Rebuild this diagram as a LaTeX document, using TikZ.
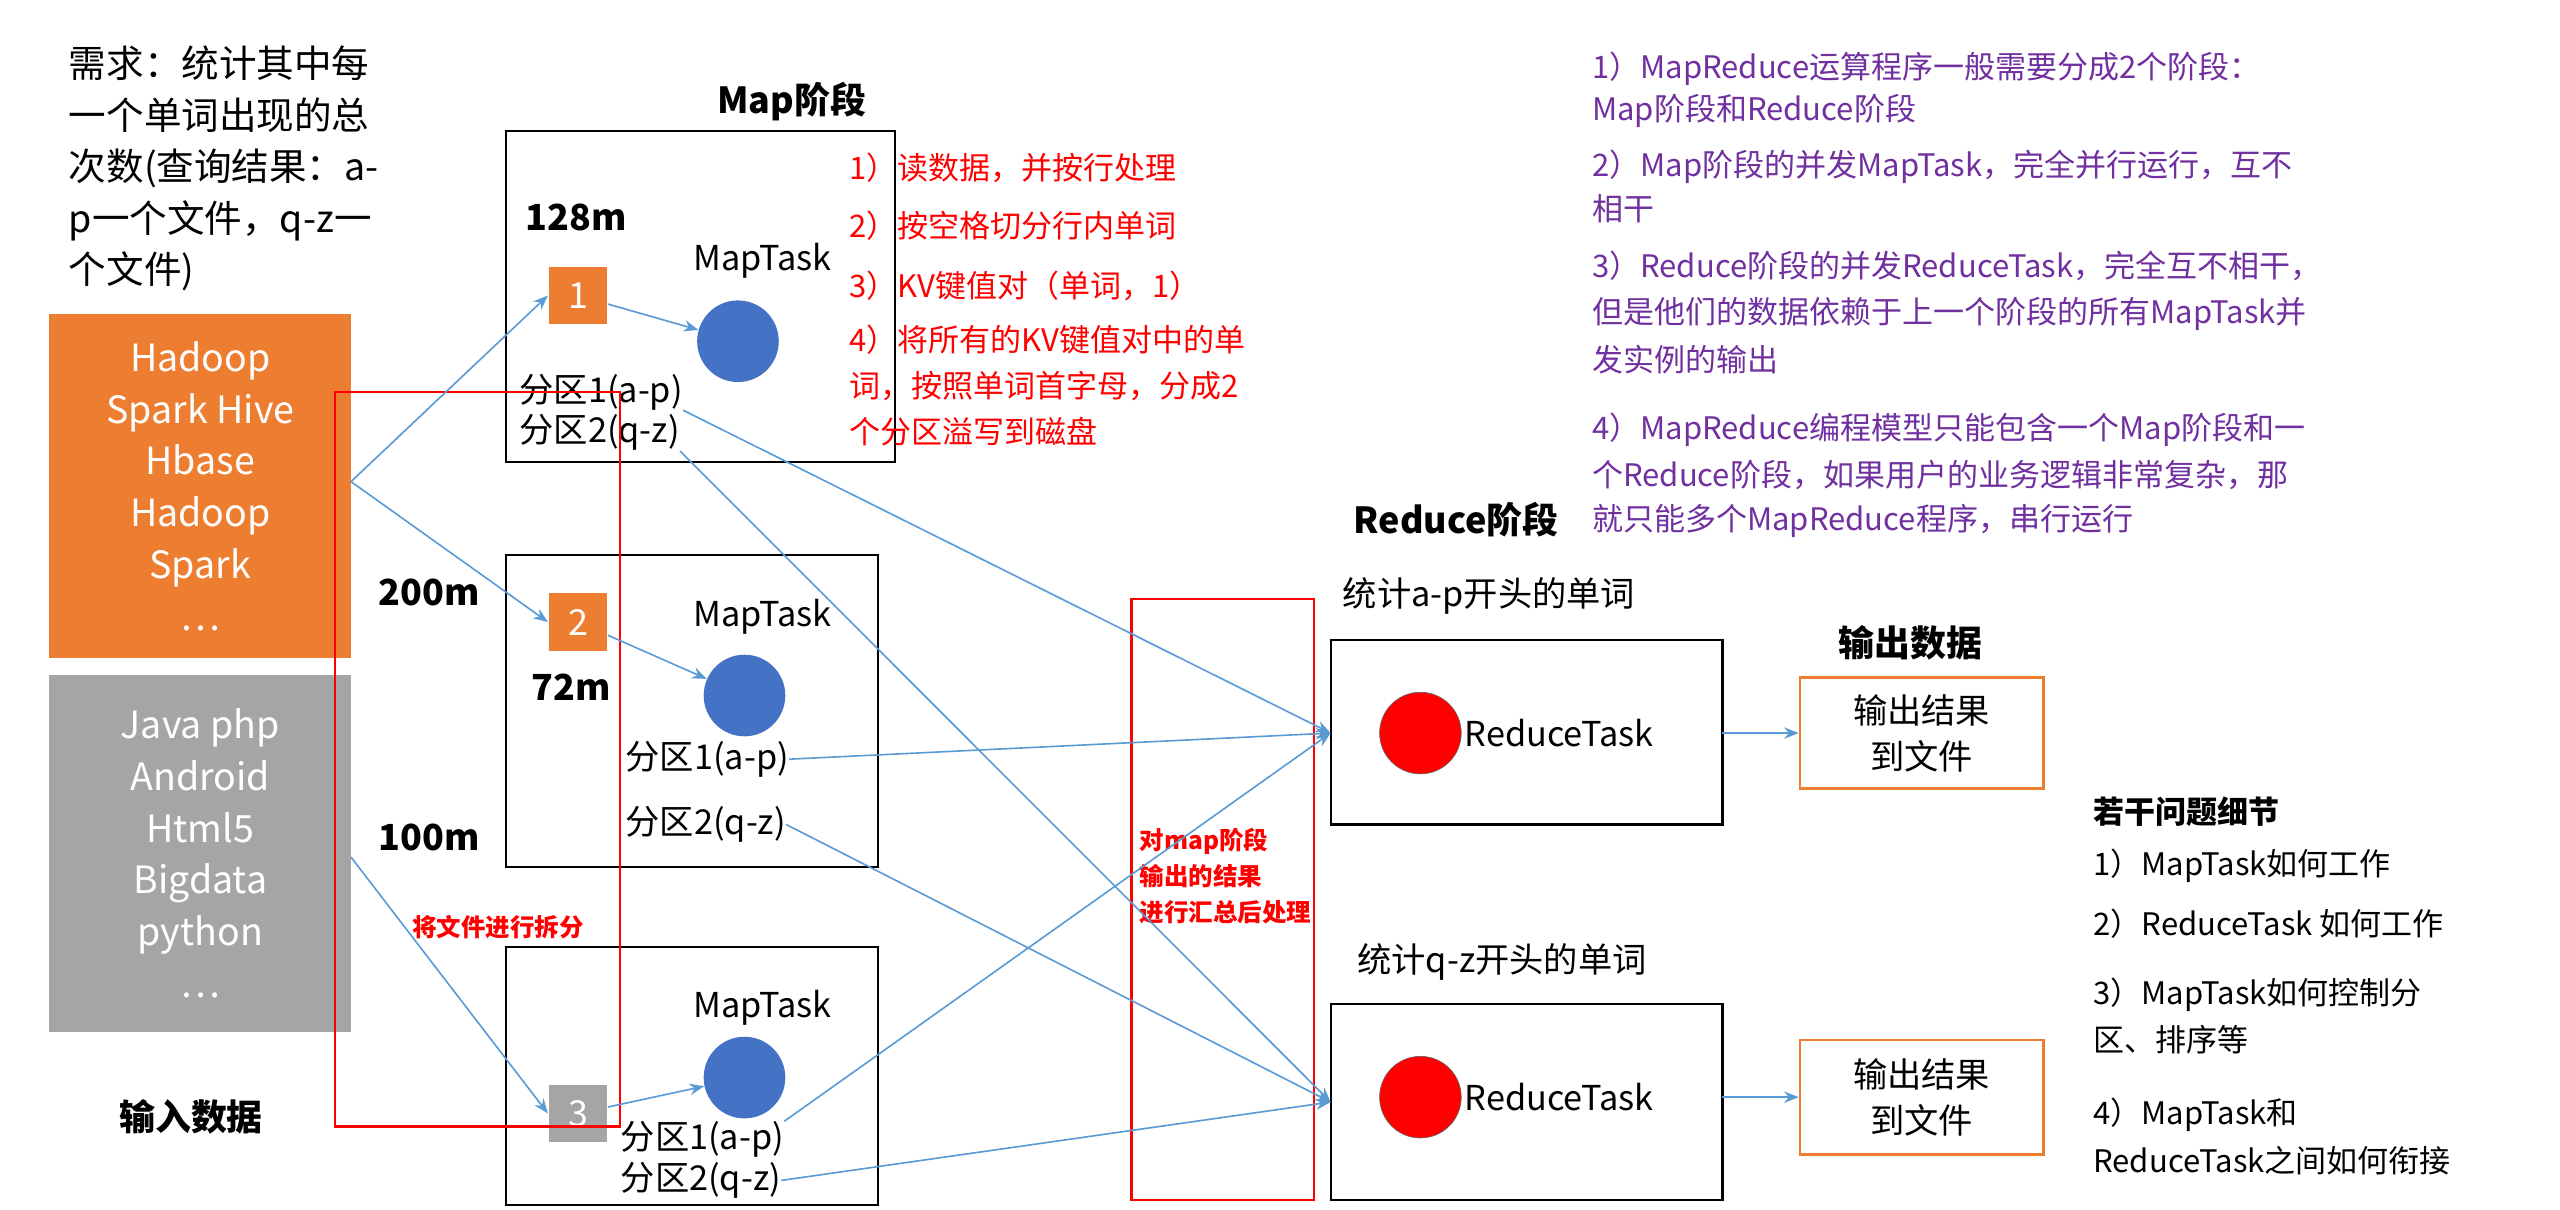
\documentclass[tikz,border=0pt]{standalone}
\usepackage{fontspec}
\setmainfont{Noto Sans CJK SC}
\usetikzlibrary{arrows.meta}
\definecolor{ob}{HTML}{ED7D31}
\definecolor{gb}{HTML}{A5A5A5}
\definecolor{bl}{HTML}{5B9BD5}
\definecolor{cb}{HTML}{4472C4}
\definecolor{pu}{HTML}{7030A0}
\begin{document}
\begin{tikzpicture}[x=1pt,y=-1pt,
 t/.style={font=\fontsize{21}{26}\selectfont,inner sep=0pt},
 tb/.style={font=\fontsize{22}{26}\selectfont\bfseries,inner sep=0pt},
 rt/.style={font=\fontsize{19}{28}\selectfont,text=red,inner sep=0pt,anchor=west},
 pt/.style={font=\fontsize{19}{27}\selectfont,text=pu,inner sep=0pt,anchor=west},
 qt/.style={font=\fontsize{19}{27}\selectfont,inner sep=0pt,anchor=west},
 box/.style={draw=black,line width=1.3pt},
 sq/.style={minimum size=36pt,inner sep=0pt,text=white,font=\fontsize{22}{22}\selectfont,draw=white,line width=0.8pt},
 circ/.style={circle,minimum size=50pt,inner sep=0pt},
 ar/.style={draw=bl,line width=1pt,-{Stealth[length=9pt,width=7pt]}},
 red/.style={draw=red,line width=1.3pt}]
\useasboundingbox (0,0) rectangle (1568,741);
\node[t,align=left,anchor=north west,font=\fontsize{23}{31.5}\selectfont] (req) at (42,28) {需求：统计其中每\\一个单词出现的总\\次数(查询结果：a-\\p一个文件，q-z一\\个文件)};
\node[fill=ob,minimum width=185pt,minimum height=211pt,anchor=north west,inner sep=0pt,text=white,align=center,font=\fontsize{23}{31.7}\selectfont] (in1) at (30,192) {Hadoop\\Spark Hive\\Hbase\\Hadoop\\Spark\\…};
\node[fill=gb,minimum width=185pt,minimum height=219pt,anchor=north west,inner sep=0pt,text=white,align=center,font=\fontsize{23}{31.7}\selectfont] (in2) at (30,413) {Java php\\Android\\Html5\\Bigdata\\python\\…};
\node[tb] (inl) at (117,684) {输入数据};
\node[tb] (mapl) at (485,62) {Map阶段};
% map boxes
\draw[box] (310,80) rectangle (548,283);
\draw[box] (310,340) rectangle (538,531);
\draw[box] (310,580) rectangle (538,738);
\node[tb] (m128) at (353,133) {128m};
\node[tb] (m200) at (263,363) {200m};
\node[tb] (m72) at (350,421) {72m};
\node[tb] (m100) at (263,513) {100m};
\node[sq,fill=ob] (s1) at (354,181) {1};
\node[sq,fill=ob] (s2) at (354,381) {2};
\node[sq,fill=gb] (s3) at (354,682) {3};
\node[t] (mt1) at (467,160) {MapTask};
\node[t] (mt2) at (467,378) {MapTask};
\node[t] (mt3) at (467,617) {MapTask};
\node[circ,fill=cb] (c1) at (452,209) {};
\node[circ,fill=cb] (c2) at (456,426) {};
\node[circ,fill=cb] (c3) at (456,660) {};
\node[t,anchor=west] (p11) at (318,240) {分区1(a-p)};
\node[t,anchor=west] (p12) at (318,265) {分区2(q-z)};
\node[t,anchor=west] (p21) at (383,465) {分区1(a-p)};
\node[t,anchor=west] (p22) at (383,505) {分区2(q-z)};
\node[t,anchor=west] (p31) at (380,698) {分区1(a-p)};
\node[t,anchor=west] (p32) at (380,723) {分区2(q-z)};
\node[rt] (r1) at (520,103) {1）读数据，并按行处理};
\node[rt] (r2) at (520,138) {2）按空格切分行内单词};
\node[rt] (r3) at (520,175) {3）KV键值对（单词，1）};
\node[rt,align=left,anchor=north west] (r4) at (520,199) {4）将所有的KV键值对中的单\\词，按照单词首字母，分成2\\个分区溢写到磁盘};
\node[font=\fontsize{15}{15}\selectfont\bfseries\itshape,text=red,inner sep=0pt] (split) at (305,568) {将文件进行拆分};
% red frames
\draw[red] (380,240) -- (205,240) -- (205,690) -- (380,690) -- cycle;
\draw[red] (693,367) rectangle (805,735);
\node[font=\fontsize{15}{22}\selectfont\bfseries\itshape,text=red,inner sep=0pt,align=left,anchor=north west] (sum) at (698,507) {对map阶段\\输出的结果\\进行汇总后处理};
% reduce
\node[tb] (redl) at (892,318) {Reduce阶段};
\node[t] (ap) at (912,365) {统计a-p开头的单词};
\node[t] (qz) at (920,589) {统计q-z开头的单词};
\draw[box] (815,392) rectangle (1055,505);
\draw[box] (815,615) rectangle (1055,735);
\coordinate (rb1) at (815,449);
\coordinate (rb2) at (815,675);
\node[circ,fill=red,draw=black!60] (rc1) at (870,449) {};
\node[circ,fill=red,draw=black!60] (rc2) at (870,672) {};
\node[t] (rt1) at (955,449) {ReduceTask};
\node[t] (rt2) at (955,672) {ReduceTask};
\node[tb] (outl) at (1170,394) {输出数据};
\node[draw=ob,line width=1.5pt,minimum width=149pt,minimum height=68pt,inner sep=0pt,align=center,font=\fontsize{21}{28}\selectfont] (o1) at (1177,449) {输出结果\\到文件};
\node[draw=ob,line width=1.5pt,minimum width=149pt,minimum height=70pt,inner sep=0pt,align=center,font=\fontsize{21}{28}\selectfont] (o2) at (1177,672) {输出结果\\到文件};
% purple
\node[pt] at (975,42) {1）MapReduce运算程序一般需要分成2个阶段：};
\node[pt] at (975,68) {Map阶段和Reduce阶段};
\node[pt] at (975,102) {2）Map阶段的并发MapTask，完全并行运行，互不};
\node[pt] at (975,128) {相干};
\node[pt] at (975,163) {3）Reduce阶段的并发ReduceTask，完全互不相干，};
\node[pt] at (975,192) {但是他们的数据依赖于上一个阶段的所有MapTask并};
\node[pt] at (975,220) {发实例的输出};
\node[pt] at (975,263) {4）MapReduce编程模型只能包含一个Map阶段和一};
\node[pt] at (975,291) {个Reduce阶段，如果用户的业务逻辑非常复杂，那};
\node[pt] at (975,319) {就只能多个MapReduce程序，串行运行};
% questions
\node[qt,font=\fontsize{19}{19}\selectfont\bfseries] at (1282,497) {若干问题细节};
\node[qt] at (1282,530) {1）MapTask如何工作};
\node[qt] at (1282,566) {2）ReduceTask 如何工作};
\node[qt] at (1282,609) {3）MapTask如何控制分};
\node[qt] at (1282,637) {区、排序等};
\node[qt] at (1282,683) {4）MapTask和};
\node[qt] at (1282,711) {ReduceTask之间如何衔接};
% arrows
\coordinate (a0) at (215,295);
\coordinate (g0) at (215,525);
\draw[ar] (a0) -- (s1.west);
\draw[ar] (a0) -- (s2.west);
\draw[ar] (g0) -- (s3.west);
\draw[ar] (s1) -- (c1);
\draw[ar] (s2) -- (c2);
\draw[ar] (s3) -- (c3);
\draw[ar] (p11.south east) -- (rb1);
\draw[ar] (p12.south east) -- (rb2);
\draw[ar] (p21.east) -- (rb1);
\draw[ar] (p22.east) -- (rb2);
\draw[ar] (p31.north east) -- (rb1);
\draw[ar] (p32.east) -- (rb2);
\draw[ar] (1055,449) -- (o1.west);
\draw[ar] (1055,672) -- (o2.west);
\end{tikzpicture}
\end{document}
